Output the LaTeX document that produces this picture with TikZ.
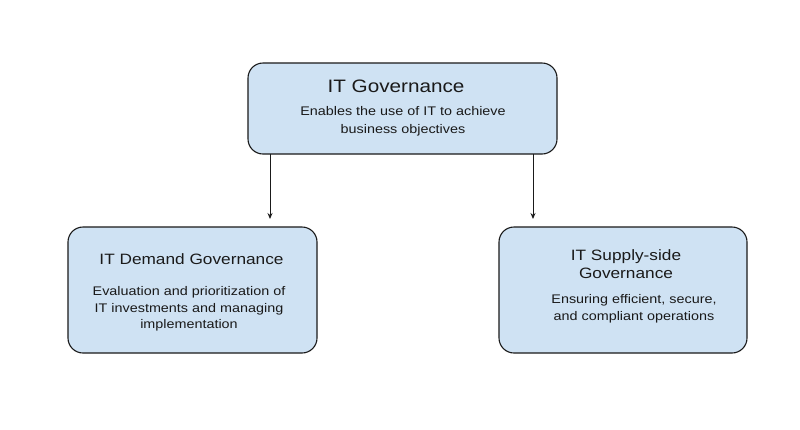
\documentclass[tikz,border=0pt]{standalone}
\usepackage{fontspec}
\setmainfont[FakeStretch=1.15]{Liberation Sans}
\usetikzlibrary{arrows.meta}
\definecolor{boxfill}{HTML}{CFE2F3}
\definecolor{ink}{HTML}{1A1A1A}
\begin{document}
\begin{tikzpicture}[x=1pt,y=-1pt,
  govbox/.style={draw=ink,fill=boxfill,line width=1.1pt,rounded corners=15pt,inner sep=0pt},
  ttl/.style={inner sep=0pt,align=center,text=ink},
  arr/.style={draw=ink,line width=0.9pt,-{Stealth[length=6pt,width=5pt]}}]
\useasboundingbox[fill=white] (0,0) rectangle (800,429);
% boxes
\node[govbox,minimum width=309pt,minimum height=91pt] (top) at (402.5,108.5) {};
\node[govbox,minimum width=249pt,minimum height=126pt] (left) at (192.5,290) {};
\node[govbox,minimum width=248pt,minimum height=126pt] (right) at (623,290) {};
% texts
\node[ttl,font=\fontsize{18}{20}\selectfont] (toptitle) at (396,86) {IT Governance};
\node[ttl,font=\fontsize{12.5}{18}\selectfont] (topsub) at (403,121.5) {Enables the use of IT to achieve\\business objectives};
\node[ttl,font=\fontsize{15}{18}\selectfont] (lefttitle) at (191.5,259) {IT Demand Governance};
\node[ttl,font=\fontsize{12.5}{16.5}\selectfont] (leftsub) at (189,309) {Evaluation and prioritization of\\IT investments and managing\\implementation};
\node[ttl,font=\fontsize{15}{18}\selectfont] (righttitle) at (626,264.5) {IT Supply-side\\Governance};
\node[ttl,font=\fontsize{12.5}{17}\selectfont] (rightsub) at (634,309) {Ensuring efficient, secure,\\and compliant operations};
% connectors
\coordinate (a1s) at (270,154);
\coordinate (a1e) at (270,219);
\coordinate (a2s) at (533,154);
\coordinate (a2e) at (533,219);
\draw[arr] (a1s) -- (a1e);
\draw[arr] (a2s) -- (a2e);
\end{tikzpicture}
\end{document}
